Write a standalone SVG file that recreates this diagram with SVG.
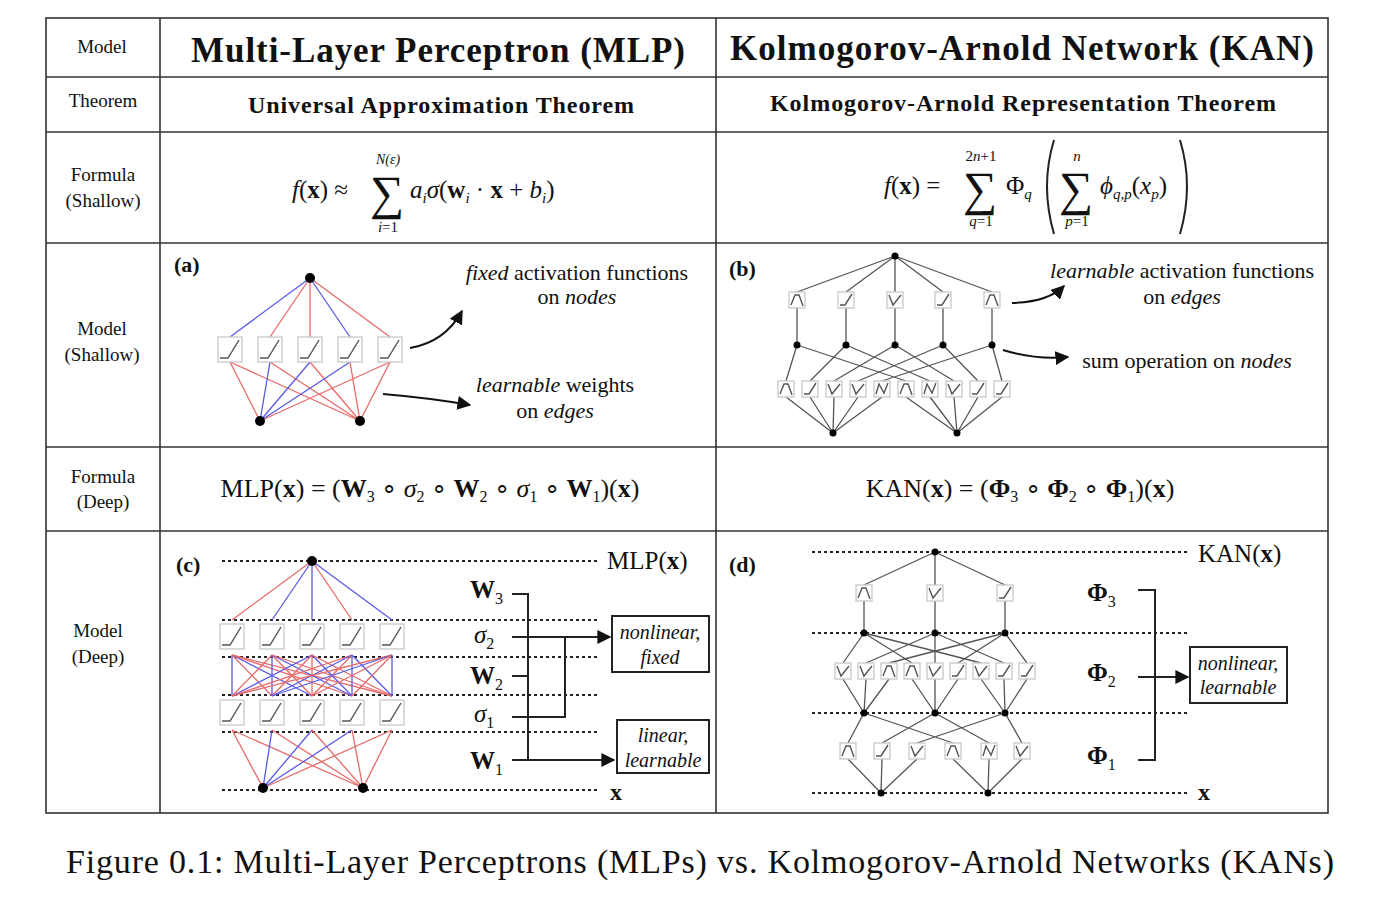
<svg xmlns="http://www.w3.org/2000/svg" xmlns:xlink="http://www.w3.org/1999/xlink" width="1392" height="900" viewBox="0 0 1392 900">
<style>
text{font-family:"Liberation Serif","Times New Roman",serif;fill:#111}
.lbl{font-size:19px;text-anchor:middle}
.hd{font-size:35px;font-weight:bold;text-anchor:middle}
.th{font-size:24px;font-weight:bold;text-anchor:middle}
.ann{font-size:22px;text-anchor:middle}
.grid{stroke:#333;stroke-width:1.6;fill:none}
.r{stroke:#e86a6a;stroke-width:1.3}
.b{stroke:#5a5ae8;stroke-width:1.3}
.k{stroke:#555;stroke-width:1.3;fill:none}
.dot{stroke:#222;stroke-width:2;stroke-dasharray:3 3;fill:none}
.bx{fill:#fff;stroke:#c8c8c8;stroke-width:1.3}
.gl{fill:none;stroke:#555;stroke-width:1.4}
.arr{fill:none;stroke:#111;stroke-width:2}
.br{fill:none;stroke:#222;stroke-width:2}
</style>
<defs>
<marker id="ah" viewBox="0 0 10 10" refX="9" refY="5" markerWidth="7" markerHeight="7" orient="auto"><path d="M0,0 L10,5 L0,10 z" fill="#111"/></marker>
<g id="m"><rect class="bx" x="-12" y="0" width="24" height="25"/><path class="gl" d="M-10,21 L-2,21 L9,3"/></g>
<g id="k1"><rect class="bx" x="-8" y="0" width="16" height="16"/><path class="gl" d="M-6,13 L-2,3 L2,3 L6,14"/></g>
<g id="k2"><rect class="bx" x="-8" y="0" width="16" height="16"/><path class="gl" d="M-6,3 L-2,13 L6,3"/></g>
<g id="k3"><rect class="bx" x="-8" y="0" width="16" height="16"/><path class="gl" d="M-6,13 L-1,13 L6,2"/></g>
<g id="k4"><rect class="bx" x="-8" y="0" width="16" height="16"/><path class="gl" d="M-6,13 L-3,3 L2,12 L6,2"/></g>
</defs>
<rect width="1392" height="900" fill="#fff"/>
<g id="table">
<rect class="grid" x="46" y="18" width="1282" height="795"/>
<line class="grid" x1="160" y1="18" x2="160" y2="813"/>
<line class="grid" x1="716" y1="18" x2="716" y2="813"/>
<line class="grid" x1="46" y1="77" x2="1328" y2="77"/>
<line class="grid" x1="46" y1="132" x2="1328" y2="132"/>
<line class="grid" x1="46" y1="243" x2="1328" y2="243"/>
<line class="grid" x1="46" y1="447" x2="1328" y2="447"/>
<line class="grid" x1="46" y1="531" x2="1328" y2="531"/>
</g>
<g id="row-labels">
<text class="lbl" x="102" y="53">Model</text>
<text class="lbl" x="103" y="107">Theorem</text>
<text class="lbl" x="103" y="181">Formula</text><text class="lbl" x="103" y="207">(Shallow)</text>
<text class="lbl" x="102" y="335">Model</text><text class="lbl" x="102" y="361">(Shallow)</text>
<text class="lbl" x="103" y="483">Formula</text><text class="lbl" x="103" y="508">(Deep)</text>
<text class="lbl" x="98" y="637">Model</text><text class="lbl" x="98" y="663">(Deep)</text>
</g>
<g id="headers">
<text class="hd" x="438" y="62" textLength="494" lengthAdjust="spacing">Multi-Layer Perceptron (MLP)</text>
<text class="hd" x="1022" y="60" textLength="584" lengthAdjust="spacing">Kolmogorov-Arnold Network (KAN)</text>
<text class="th" x="441" y="113" textLength="386" lengthAdjust="spacing">Universal Approximation Theorem</text>
<text class="th" x="1023" y="111" textLength="506" lengthAdjust="spacing">Kolmogorov-Arnold Representation Theorem</text>
</g>
<g id="formulas" font-size="24">
<text x="292" y="198" font-size="25"><tspan font-style="italic">f</tspan>(<tspan font-weight="bold">x</tspan>) ≈</text>
<text x="370" y="209" font-size="48">∑</text>
<text x="388" y="164" font-size="14" text-anchor="middle" font-style="italic">N(ε)</text>
<text x="388" y="232" font-size="15" text-anchor="middle"><tspan font-style="italic">i</tspan>=1</text>
<text x="410" y="198" font-size="25"><tspan font-style="italic">a<tspan font-size="15" dy="5">i</tspan><tspan dy="-5">σ</tspan></tspan>(<tspan font-weight="bold">w</tspan><tspan font-size="15" dy="5" font-style="italic">i</tspan><tspan dy="-5"> · </tspan><tspan font-weight="bold">x</tspan> + <tspan font-style="italic">b</tspan><tspan font-size="15" dy="5" font-style="italic">i</tspan><tspan dy="-5">)</tspan></text>
<text x="884" y="194" font-size="25"><tspan font-style="italic">f</tspan>(<tspan font-weight="bold">x</tspan>) =</text>
<text x="963" y="205" font-size="48">∑</text>
<text x="981" y="161" font-size="15" text-anchor="middle">2<tspan font-style="italic">n</tspan>+1</text>
<text x="981" y="226" font-size="15" text-anchor="middle"><tspan font-style="italic">q</tspan>=1</text>
<text x="1006" y="194" font-size="25">Φ<tspan font-size="15" dy="5" font-style="italic">q</tspan></text>
<path d="M1054,140 Q1040,186 1054,234" class="br" stroke-width="1.6"/>
<text x="1059" y="205" font-size="48">∑</text>
<text x="1077" y="161" font-size="15" text-anchor="middle" font-style="italic">n</text>
<text x="1077" y="226" font-size="15" text-anchor="middle"><tspan font-style="italic">p</tspan>=1</text>
<text x="1100" y="194" font-size="25" font-style="italic">ϕ<tspan font-size="15" dy="5">q,p</tspan><tspan dy="-5" font-style="normal">(</tspan>x<tspan font-size="15" dy="5">p</tspan><tspan dy="-5" font-style="normal">)</tspan></text>
<path d="M1180,140 Q1194,186 1180,234" class="br" stroke-width="1.6"/>
<text x="430" y="497" font-size="26" text-anchor="middle">MLP(<tspan font-weight="bold">x</tspan>) = (<tspan font-weight="bold">W</tspan><tspan font-size="16" dy="5">3</tspan><tspan dy="-5"> ∘ </tspan><tspan font-style="italic">σ</tspan><tspan font-size="16" dy="5">2</tspan><tspan dy="-5"> ∘ </tspan><tspan font-weight="bold">W</tspan><tspan font-size="16" dy="5">2</tspan><tspan dy="-5"> ∘ </tspan><tspan font-style="italic">σ</tspan><tspan font-size="16" dy="5">1</tspan><tspan dy="-5"> ∘ </tspan><tspan font-weight="bold">W</tspan><tspan font-size="16" dy="5">1</tspan><tspan dy="-5">)(</tspan><tspan font-weight="bold">x</tspan>)</text>
<text x="1020" y="497" font-size="26" text-anchor="middle">KAN(<tspan font-weight="bold">x</tspan>) = (<tspan font-weight="bold">Φ</tspan><tspan font-size="16" dy="5">3</tspan><tspan dy="-5"> ∘ </tspan><tspan font-weight="bold">Φ</tspan><tspan font-size="16" dy="5">2</tspan><tspan dy="-5"> ∘ </tspan><tspan font-weight="bold">Φ</tspan><tspan font-size="16" dy="5">1</tspan><tspan dy="-5">)(</tspan><tspan font-weight="bold">x</tspan>)</text>
</g>
<g id="panel-a">
<text x="174" y="272" font-size="22" font-weight="bold">(a)</text>
<g id="edges-a">
<line class="b" x1="310" y1="278" x2="230" y2="337"/><line class="r" x1="310" y1="278" x2="270" y2="337"/><line class="r" x1="310" y1="278" x2="310" y2="337"/><line class="b" x1="310" y1="278" x2="350" y2="337"/><line class="r" x1="310" y1="278" x2="390" y2="337"/>
<line class="r" x1="230" y1="362" x2="260" y2="421"/><line class="r" x1="230" y1="362" x2="360" y2="421"/>
<line class="b" x1="270" y1="362" x2="260" y2="421"/><line class="r" x1="270" y1="362" x2="360" y2="421"/>
<line class="b" x1="310" y1="362" x2="260" y2="421"/><line class="r" x1="310" y1="362" x2="360" y2="421"/>
<line class="b" x1="350" y1="362" x2="260" y2="421"/><line class="r" x1="350" y1="362" x2="360" y2="421"/>
<line class="r" x1="390" y1="362" x2="260" y2="421"/><line class="r" x1="390" y1="362" x2="360" y2="421"/>
<path class="arr" d="M410,348 Q445,342 462,311" marker-end="url(#ah)"/>
<path class="arr" d="M383,394 Q430,398 470,405" marker-end="url(#ah)"/>
</g>
<use href="#m" x="230" y="337"/><use href="#m" x="270" y="337"/><use href="#m" x="310" y="337"/><use href="#m" x="350" y="337"/><use href="#m" x="390" y="337"/>
<circle cx="310" cy="278" r="5"/><circle cx="260" cy="421" r="5"/><circle cx="360" cy="421" r="5"/>
<text class="ann" x="577" y="280"><tspan font-style="italic">fixed</tspan> activation functions</text>
<text class="ann" x="577" y="304">on <tspan font-style="italic">nodes</tspan></text>
<text class="ann" x="555" y="392"><tspan font-style="italic">learnable</tspan> weights</text>
<text class="ann" x="555" y="418">on <tspan font-style="italic">edges</tspan></text>
</g>
<g id="panel-b">
<text x="729" y="276" font-size="22" font-weight="bold">(b)</text>
<g id="edges-b" class="k">
<path d="M895,256 L797,292 M895,256 L846,292 M895,256 L895,292 M895,256 L943,292 M895,256 L992,292"/>
<path d="M797,308 L797,345 M846,308 L846,345 M895,308 L895,345 M943,308 L943,345 M992,308 L992,345"/>
<path d="M797,345 L786,381 M797,345 L906,381 M846,345 L810,381 M846,345 L930,381 M895,345 L834,381 M895,345 L954,381 M943,345 L858,381 M943,345 L978,381 M992,345 L882,381 M992,345 L1002,381"/>
<path d="M786,397 L833,433 M810,397 L833,433 M834,397 L833,433 M858,397 L833,433 M882,397 L833,433 M906,397 L957,433 M930,397 L957,433 M954,397 L957,433 M978,397 L957,433 M1002,397 L957,433"/>
</g>
<use href="#k1" x="797" y="292"/><use href="#k3" x="846" y="292"/><use href="#k2" x="895" y="292"/><use href="#k3" x="943" y="292"/><use href="#k1" x="992" y="292"/>
<use href="#k1" x="786" y="381"/><use href="#k3" x="810" y="381"/><use href="#k2" x="834" y="381"/><use href="#k2" x="858" y="381"/><use href="#k4" x="882" y="381"/><use href="#k1" x="906" y="381"/><use href="#k4" x="930" y="381"/><use href="#k2" x="954" y="381"/><use href="#k3" x="978" y="381"/><use href="#k3" x="1002" y="381"/>
<circle cx="895" cy="256" r="3.5"/><circle cx="797" cy="345" r="3.5"/><circle cx="846" cy="345" r="3.5"/><circle cx="895" cy="345" r="3.5"/><circle cx="943" cy="345" r="3.5"/><circle cx="992" cy="345" r="3.5"/><circle cx="833" cy="433" r="3.5"/><circle cx="957" cy="433" r="3.5"/>
<path class="arr" d="M1012,303 Q1048,302 1064,286" marker-end="url(#ah)"/>
<path class="arr" d="M1003,350 Q1035,360 1068,357" marker-end="url(#ah)"/>
<text class="ann" x="1182" y="278"><tspan font-style="italic">learnable</tspan> activation functions</text>
<text class="ann" x="1182" y="304">on <tspan font-style="italic">edges</tspan></text>
<text class="ann" x="1187" y="368">sum operation on <tspan font-style="italic">nodes</tspan></text>
</g>
<g id="panel-c">
<text x="176" y="572" font-size="22" font-weight="bold">(c)</text>
<g id="dots-c">
<line class="dot" x1="222" y1="561" x2="600" y2="561"/><line class="dot" x1="222" y1="620" x2="600" y2="620"/><line class="dot" x1="222" y1="657" x2="600" y2="657"/><line class="dot" x1="222" y1="695" x2="600" y2="695"/><line class="dot" x1="222" y1="732" x2="600" y2="732"/><line class="dot" x1="222" y1="790" x2="600" y2="790"/>
</g>
<g id="edges-c">
<line class="r" x1="312" y1="561" x2="232" y2="620"/><line class="b" x1="312" y1="561" x2="272" y2="620"/><line class="b" x1="312" y1="561" x2="312" y2="620"/><line class="r" x1="312" y1="561" x2="352" y2="620"/><line class="b" x1="312" y1="561" x2="392" y2="620"/>
<g>
<line class="b" x1="232" y1="655" x2="232" y2="696"/><line class="r" x1="232" y1="655" x2="272" y2="696"/><line class="b" x1="232" y1="655" x2="312" y2="696"/><line class="r" x1="232" y1="655" x2="352" y2="696"/><line class="r" x1="232" y1="655" x2="392" y2="696"/>
<line class="r" x1="272" y1="655" x2="232" y2="696"/><line class="b" x1="272" y1="655" x2="272" y2="696"/><line class="r" x1="272" y1="655" x2="312" y2="696"/><line class="b" x1="272" y1="655" x2="352" y2="696"/><line class="r" x1="272" y1="655" x2="392" y2="696"/>
<line class="b" x1="312" y1="655" x2="232" y2="696"/><line class="r" x1="312" y1="655" x2="272" y2="696"/><line class="r" x1="312" y1="655" x2="312" y2="696"/><line class="b" x1="312" y1="655" x2="352" y2="696"/><line class="r" x1="312" y1="655" x2="392" y2="696"/>
<line class="r" x1="352" y1="655" x2="232" y2="696"/><line class="b" x1="352" y1="655" x2="272" y2="696"/><line class="r" x1="352" y1="655" x2="312" y2="696"/><line class="b" x1="352" y1="655" x2="352" y2="696"/><line class="b" x1="352" y1="655" x2="392" y2="696"/>
<line class="r" x1="392" y1="655" x2="232" y2="696"/><line class="b" x1="392" y1="655" x2="272" y2="696"/><line class="r" x1="392" y1="655" x2="312" y2="696"/><line class="r" x1="392" y1="655" x2="352" y2="696"/><line class="b" x1="392" y1="655" x2="392" y2="696"/>
</g>
<line class="r" x1="232" y1="730" x2="263" y2="788"/><line class="r" x1="232" y1="730" x2="363" y2="788"/>
<line class="b" x1="272" y1="730" x2="263" y2="788"/><line class="r" x1="272" y1="730" x2="363" y2="788"/>
<line class="b" x1="312" y1="730" x2="263" y2="788"/><line class="r" x1="312" y1="730" x2="363" y2="788"/>
<line class="b" x1="352" y1="730" x2="263" y2="788"/><line class="r" x1="352" y1="730" x2="363" y2="788"/>
<line class="r" x1="392" y1="730" x2="263" y2="788"/><line class="r" x1="392" y1="730" x2="363" y2="788"/>
</g>
<use href="#m" x="232" y="624"/><use href="#m" x="272" y="624"/><use href="#m" x="312" y="624"/><use href="#m" x="352" y="624"/><use href="#m" x="392" y="624"/>
<use href="#m" x="232" y="700"/><use href="#m" x="272" y="700"/><use href="#m" x="312" y="700"/><use href="#m" x="352" y="700"/><use href="#m" x="392" y="700"/>
<circle cx="312" cy="561" r="5"/><circle cx="263" cy="788" r="5"/><circle cx="363" cy="788" r="5"/>
<text x="607" y="569" font-size="25">MLP(<tspan font-weight="bold">x</tspan>)</text>
<text x="610" y="800" font-size="24" font-weight="bold">x</text>
<g font-size="25">
<text x="470" y="598" font-weight="bold">W<tspan font-size="16" dy="6" font-weight="normal">3</tspan></text>
<text x="474" y="643" font-style="italic">σ<tspan font-size="16" dy="6" font-style="normal">2</tspan></text>
<text x="470" y="684" font-weight="bold">W<tspan font-size="16" dy="6" font-weight="normal">2</tspan></text>
<text x="474" y="722" font-style="italic">σ<tspan font-size="16" dy="6" font-style="normal">1</tspan></text>
<text x="470" y="769" font-weight="bold">W<tspan font-size="16" dy="6" font-weight="normal">1</tspan></text>
</g>
<g id="conn-c">
<path class="br" d="M512,594 L528,594 L528,760 M512,676 L528,676"/>
<path class="br" d="M512,760 L614,760" marker-end="url(#ah)"/>
<path class="br" d="M512,637 L610,637" marker-end="url(#ah)"/>
<path class="br" d="M512,717 L565,717 L565,637"/>
</g>
<rect class="br" x="612" y="616" width="97" height="56"/>
<text x="660" y="639" font-size="20" text-anchor="middle" font-style="italic">nonlinear,</text>
<text x="660" y="664" font-size="20" text-anchor="middle" font-style="italic">fixed</text>
<rect class="br" x="617" y="720" width="92" height="53"/>
<text x="663" y="742" font-size="20" text-anchor="middle" font-style="italic">linear,</text>
<text x="663" y="767" font-size="20" text-anchor="middle" font-style="italic">learnable</text>
</g>
<g id="panel-d">
<text x="729" y="572" font-size="22" font-weight="bold">(d)</text>
<line class="dot" x1="812" y1="552" x2="1190" y2="552"/><line class="dot" x1="812" y1="633" x2="1190" y2="633"/><line class="dot" x1="812" y1="713" x2="1190" y2="713"/><line class="dot" x1="812" y1="793" x2="1190" y2="793"/>
<g id="edges-d" class="k">
<path d="M935,552 L864,585 M935,552 L935,585 M935,552 L1005,585 M864,601 L864,633 M935,601 L935,633 M1005,601 L1005,633"/>
<path d="M864,633 L843,663 M935,633 L866,663 M1005,633 L889,663 M864,633 L912,663 M935,633 L935,663 M1005,633 L958,663 M864,633 L981,663 M935,633 L1004,663 M1005,633 L1027,663"/>
<path d="M843,679 L864,713 M866,679 L864,713 M889,679 L864,713 M912,679 L935,713 M935,679 L935,713 M958,679 L935,713 M981,679 L1005,713 M1004,679 L1005,713 M1027,679 L1005,713"/>
<path d="M864,713 L848,743 M935,713 L882,743 M1005,713 L917,743 M864,713 L953,743 M935,713 L989,743 M1005,713 L1022,743"/>
<path d="M848,759 L881,793 M882,759 L881,793 M917,759 L881,793 M953,759 L988,793 M989,759 L988,793 M1022,759 L988,793"/>
</g>
<use href="#k1" x="864" y="585"/><use href="#k2" x="935" y="585"/><use href="#k3" x="1005" y="585"/>
<use href="#k2" x="843" y="663"/><use href="#k2" x="866" y="663"/><use href="#k1" x="889" y="663"/><use href="#k1" x="912" y="663"/><use href="#k2" x="935" y="663"/><use href="#k3" x="958" y="663"/><use href="#k2" x="981" y="663"/><use href="#k3" x="1004" y="663"/><use href="#k3" x="1027" y="663"/>
<use href="#k1" x="848" y="743"/><use href="#k3" x="882" y="743"/><use href="#k2" x="917" y="743"/><use href="#k1" x="953" y="743"/><use href="#k4" x="989" y="743"/><use href="#k2" x="1022" y="743"/>
<circle cx="935" cy="552" r="3.5"/><circle cx="864" cy="633" r="3.5"/><circle cx="935" cy="633" r="3.5"/><circle cx="1005" cy="633" r="3.5"/><circle cx="864" cy="713" r="3.5"/><circle cx="935" cy="713" r="3.5"/><circle cx="1005" cy="713" r="3.5"/><circle cx="881" cy="793" r="3.5"/><circle cx="988" cy="793" r="3.5"/>
<text x="1198" y="562" font-size="25">KAN(<tspan font-weight="bold">x</tspan>)</text>
<text x="1198" y="800" font-size="24" font-weight="bold">x</text>
<g font-size="25" font-weight="bold">
<text x="1087" y="601">Φ<tspan font-size="16" dy="6" font-weight="normal">3</tspan></text>
<text x="1087" y="681">Φ<tspan font-size="16" dy="6" font-weight="normal">2</tspan></text>
<text x="1087" y="764">Φ<tspan font-size="16" dy="6" font-weight="normal">1</tspan></text>
</g>
<path class="br" d="M1138,590 L1155,590 L1155,760 L1138,760"/>
<path class="br" d="M1138,677 L1188,677" marker-end="url(#ah)"/>
<rect class="br" x="1190" y="647" width="97" height="56"/>
<text x="1238" y="670" font-size="20" text-anchor="middle" font-style="italic">nonlinear,</text>
<text x="1238" y="694" font-size="20" text-anchor="middle" font-style="italic">learnable</text>
</g>
<text x="700" y="873" font-size="34" text-anchor="middle" textLength="1268" lengthAdjust="spacing">Figure 0.1: Multi-Layer Perceptrons (MLPs) vs. Kolmogorov-Arnold Networks (KANs)</text>
</svg>
